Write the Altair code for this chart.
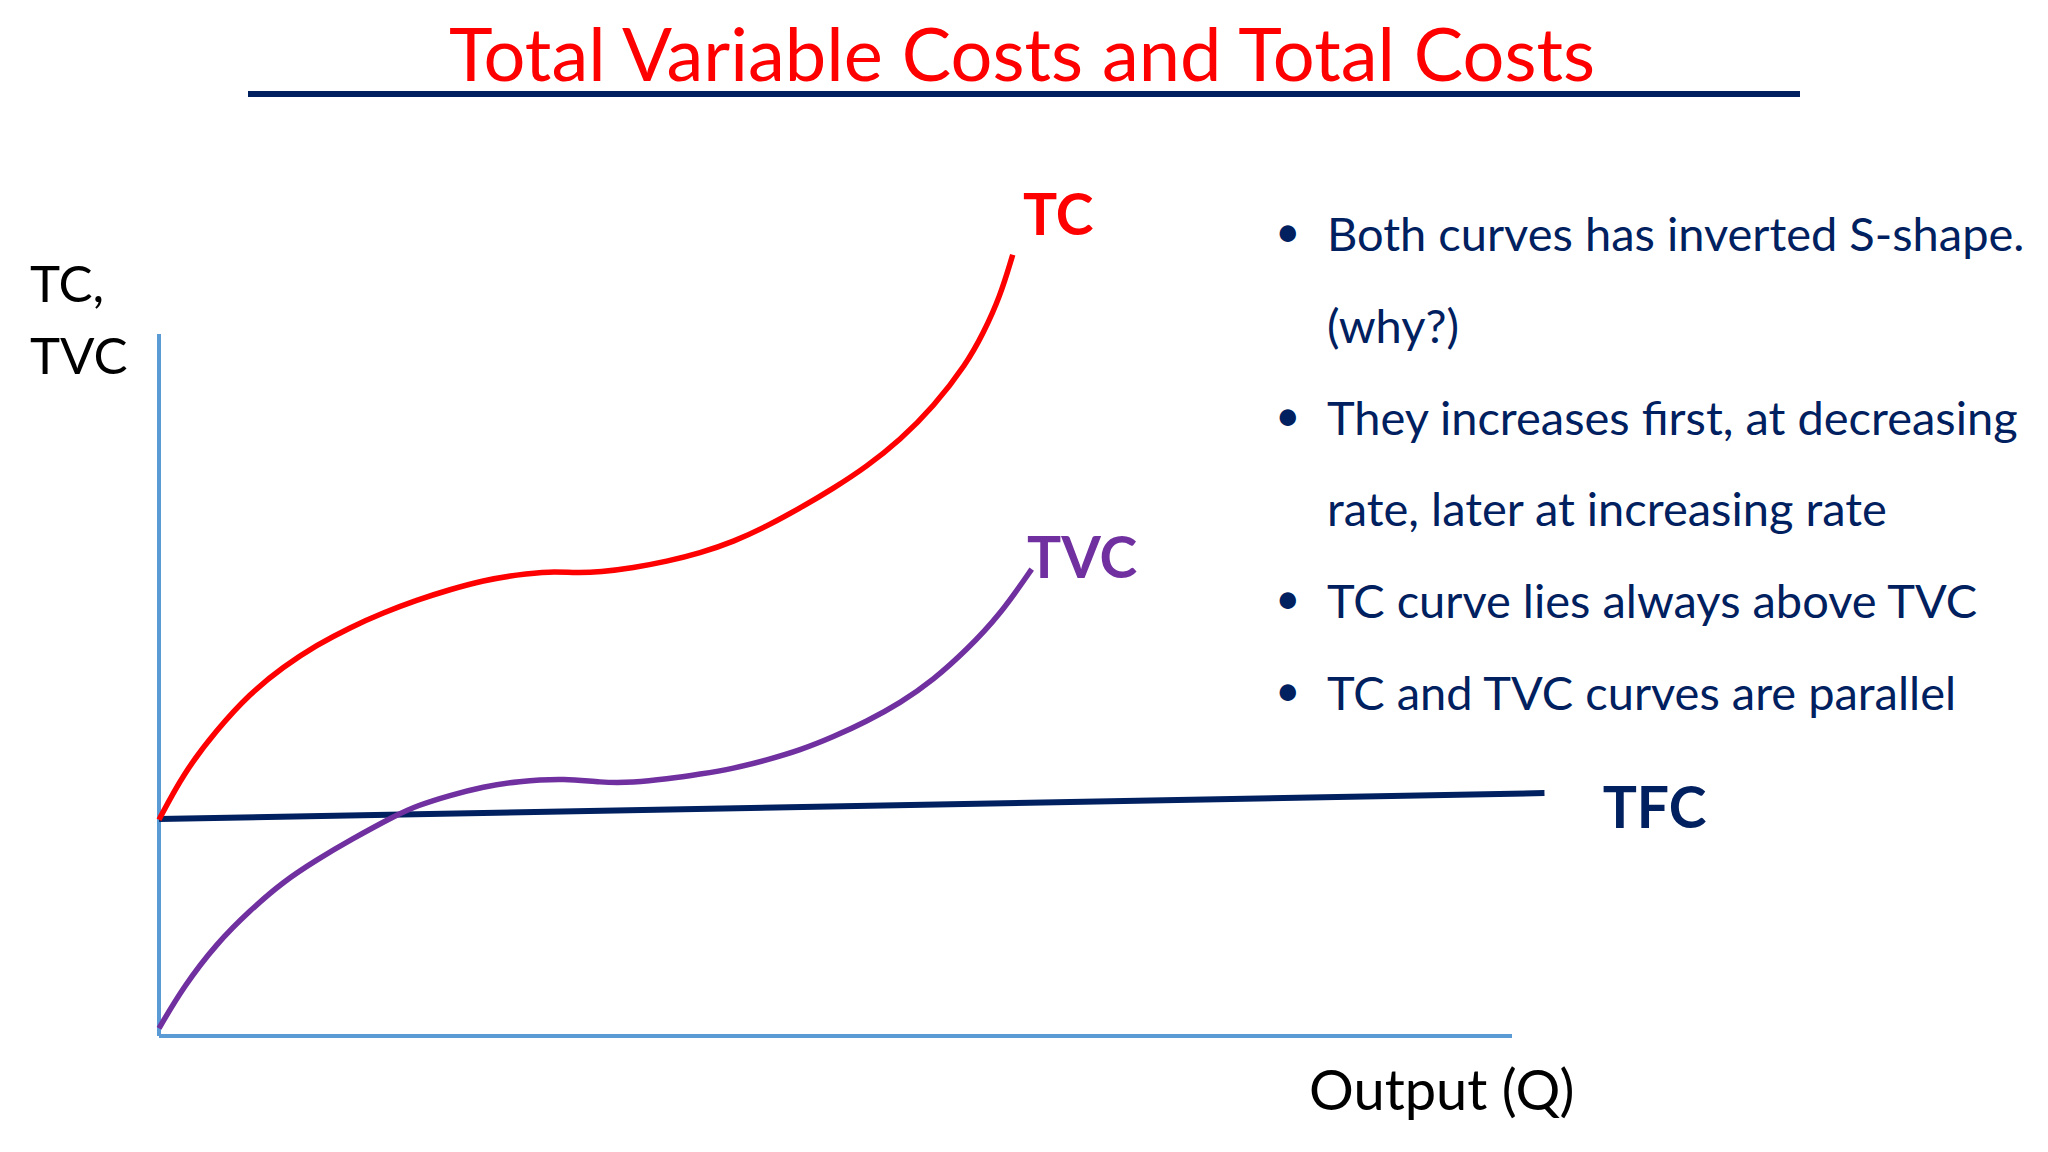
import altair as alt
import pandas as pd

# Cost readings (output Q on x, cost on y), both axes on a 0-100 scale
tc_q = [0, 1.80, 4.26, 6.73, 9.19, 11.66, 14.12, 16.58, 19.05, 21.51, 23.97, 26.44,
        28.90, 30.90, 32.59, 35.06, 37.52, 39.99, 42.45, 44.91, 47.38, 49.84, 52.30,
        54.77, 57.23, 59.70, 60.92, 62.16, 63.10]
tc_cost = [30.8, 37.4, 43.6, 48.8, 52.6, 55.7, 58.2, 60.3, 62.1, 63.6, 64.9, 65.7,
           66.2, 65.95, 66.1, 66.7, 67.6, 68.8, 70.4, 72.6, 75.2, 78.0, 81.1,
           84.9, 89.6, 95.8, 100.1, 105.3, 111.3]
tvc_q = [0, 1.80, 4.26, 6.73, 9.19, 11.66, 14.12, 17.57, 19.05, 21.51, 23.97, 26.44,
         30.13, 32.59, 35.06, 37.52, 39.99, 42.45, 44.91, 47.38, 49.84, 52.30, 54.77,
         57.23, 59.70, 62.16, 64.50]
tvc_cost = [1.1, 7.0, 13.2, 17.9, 22.0, 25.1, 27.9, 31.5, 32.8, 34.3, 35.5, 36.3,
            36.7, 36.1, 36.1, 36.6, 37.3, 38.1, 39.3, 40.7, 42.6, 44.8, 47.4,
            50.7, 55.0, 60.0, 66.5]
tfc_q = [0, 102.4]
tfc_cost = [30.9, 34.6]

# Curve labels: name, anchor Q, anchor cost
label_names = ["TC", "TVC", "TFC"]
label_q = [63.86, 64.15, 106.7]
label_cost = [114.1, 65.2, 29.6]

title_text = "Total Variable Costs and Total Costs"
y_title = ["TC,", "TVC"]
x_title = "Output (Q)"
notes = [
    ("•", "Both curves has inverted S-shape."),
    ("", "(why?)"),
    ("•", "They increases first, at decreasing"),
    ("", "rate, later at increasing rate"),
    ("•", "TC curve lies always above TVC"),
    ("•", "TC and TVC curves are parallel"),
]

RED = "#ff0000"
PURPLE = "#7030a0"
NAVY = "#002060"
AXIS = "#5b9bd5"
FONT = "Lato"

W, H = 1353, 702
xs = alt.Scale(domain=[0, 100], nice=False, zero=False)
ys = alt.Scale(domain=[0, 100], nice=False, zero=False)


def curve(q, c, color, width, interp="basis"):
    df = pd.DataFrame({"q": q, "cost": c})
    return alt.Chart(df).mark_line(
        color=color, strokeWidth=width, interpolate=interp
    ).encode(
        x=alt.X("q:Q", scale=xs, axis=None),
        y=alt.Y("cost:Q", scale=ys, axis=None),
    )


# Axis lines
axes_df = pd.DataFrame({"x": [0, 0], "x2": [0, 100], "y": [0, 0], "y2": [100, 0]})
axes = alt.Chart(axes_df).mark_rule(color=AXIS, strokeWidth=4).encode(
    x=alt.X("x:Q", scale=xs, axis=None), x2="x2:Q",
    y=alt.Y("y:Q", scale=ys, axis=None), y2="y2:Q",
)

tfc = curve(tfc_q, tfc_cost, NAVY, 6, "linear")
tvc = curve(tvc_q, tvc_cost, PURPLE, 5.5)
tc = curve(tc_q, tc_cost, RED, 5.5)

lab_df = pd.DataFrame({"name": label_names, "q": label_q, "cost": label_cost,
                       "color": [RED, PURPLE, NAVY]})
labels = alt.Chart(lab_df).mark_text(
    font=FONT, fontSize=57, fontWeight="bold", align="left", baseline="alphabetic"
).encode(
    x=alt.X("q:Q", scale=xs, axis=None),
    y=alt.Y("cost:Q", scale=ys, axis=None),
    text="name:N",
    color=alt.Color("color:N", scale=None),
)

one = pd.DataFrame({"k": [0]})


def text_at(txt, x, y, size, color, align="left", weight="normal"):
    return alt.Chart(one).mark_text(
        text=txt, font=FONT, fontSize=size, color=color, align=align,
        baseline="alphabetic", fontWeight=weight,
    ).encode(x=alt.value(x), y=alt.value(y))


layers = [axes, tfc, tvc, tc, labels]

# Title and its underline
layers.append(text_at(title_text, 863, -253, 74, RED, align="center"))
layers.append(
    alt.Chart(one).mark_rule(color=NAVY, strokeWidth=6).encode(
        x=alt.value(89), x2=alt.value(1641), y=alt.value(-240)
    )
)

# Axis titles
layers.append(text_at(y_title[0], -129, -32, 51, "#000000"))
layers.append(text_at(y_title[1], -129, 40, 51, "#000000"))
layers.append(text_at(x_title, 1150, 776, 56, "#000000"))

# Bullet notes
for i, (mark, line) in enumerate(notes):
    yb = -83 + i * 91.8
    if mark:
        layers.append(text_at(mark, 1116, yb - 4, 44, NAVY))
    layers.append(text_at(line, 1168, yb, 47, NAVY))

chart = alt.layer(*layers).properties(
    width=W, height=H,
    autosize=alt.AutoSizeParams(type="none"),
    padding={"left": 159, "top": 334, "right": 536, "bottom": 116},
    background="white",
).configure_view(stroke=None)

chart.save("out.html", embed_options={"renderer": "svg", "actions": False})
